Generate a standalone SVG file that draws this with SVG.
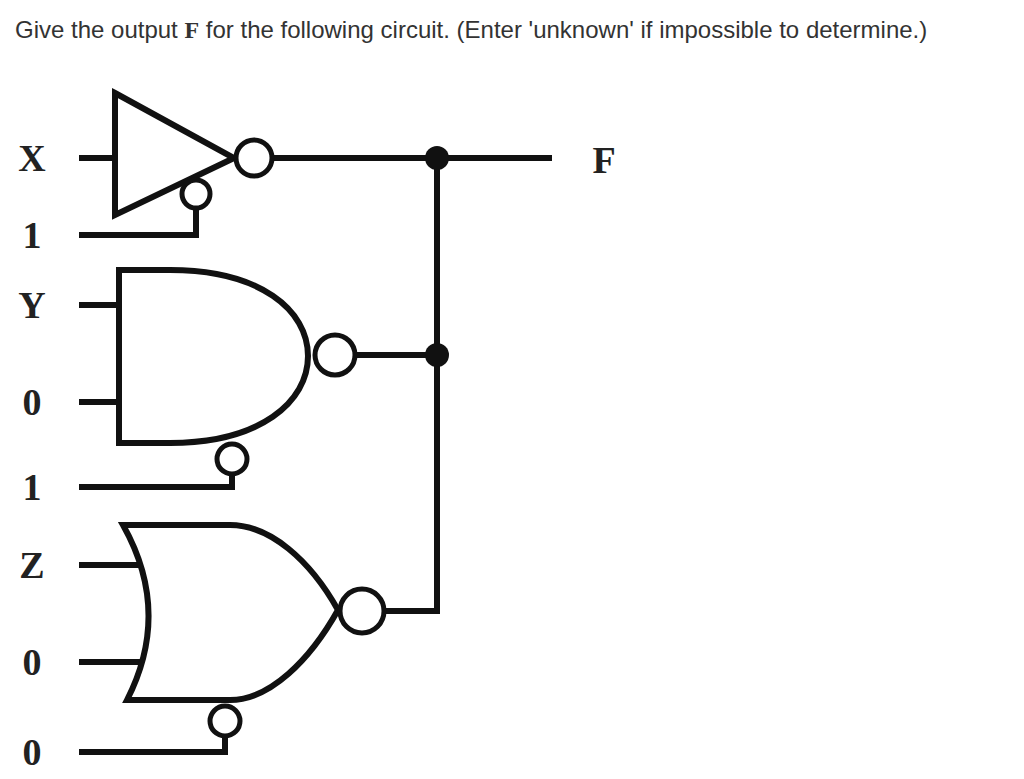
<svg xmlns="http://www.w3.org/2000/svg" width="1024" height="779" viewBox="0 0 1024 779">
<style>
.w{fill:none;stroke:#111;stroke-width:6;stroke-linejoin:miter}
.g{fill:#fff;stroke:#111;stroke-width:6}
.b{fill:#fff;stroke:#111;stroke-width:5}
.d{fill:#111}
.l{font-family:"Liberation Serif",serif;font-weight:bold;font-size:38px;fill:#222;text-anchor:middle;dominant-baseline:central}
.t{font-family:"Liberation Sans",Arial,sans-serif;font-size:24px;fill:#333}
</style>
<rect width="1024" height="779" fill="#fff"/>
<text class="t" x="15" y="38">Give the output <tspan font-family="Liberation Serif,serif" font-weight="bold">F</tspan> for the following circuit. (Enter 'unknown' if impossible to determine.)</text>
<g id="labels">
<text class="l" x="32" y="158">X</text>
<text class="l" x="32" y="235">1</text>
<text class="l" x="32" y="305">Y</text>
<text class="l" x="32" y="402">0</text>
<text class="l" x="32" y="487">1</text>
<text class="l" x="32" y="565">Z</text>
<text class="l" x="32" y="662">0</text>
<text class="l" x="32" y="752">0</text>
<text class="l" x="604" y="160">F</text>
</g>
<g id="connectors">
<path class="w" d="M79 158H115"/>
<path class="w" d="M196 209V235H79"/>
<path class="w" d="M272 158H552"/>
<path class="w" d="M437 158V611H384"/>
<path class="w" d="M79 305H119M79 402H119"/>
<path class="w" d="M355 355H437"/>
<path class="w" d="M232 474V487H79"/>
<path class="w" d="M79 565H143M79 662H143"/>
<path class="w" d="M225 737V752H79"/>
</g>
<g id="inverter">
<path class="g" d="M115 93L234 158L115 215Z"/>
<circle class="b" cx="254" cy="158" r="18"/>
<circle class="b" cx="196" cy="194" r="14"/>
</g>
<g id="nand">
<path class="g" d="M119 270H170C260 270 308 310 308 356C308 402 260 443 170 443H119Z"/>
<circle class="b" cx="335" cy="355" r="20"/>
<circle class="b" cx="232" cy="459" r="15"/>
</g>
<g id="nor">
<path class="g" d="M123 525H230C270 525 310 560 338 610C310 660 270 700 230 700H127Q172 612 123 525Z"/>
<circle class="b" cx="362" cy="611" r="22"/>
<circle class="b" cx="225" cy="721" r="15"/>
</g>
<g id="junctions">
<circle class="d" cx="437" cy="158" r="12"/>
<circle class="d" cx="437" cy="355" r="12"/>
</g>
</svg>
